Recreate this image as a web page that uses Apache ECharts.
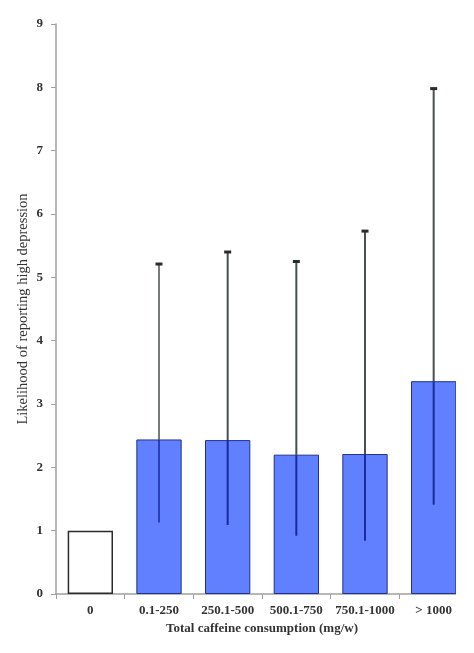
<!DOCTYPE html>
<html>
<head>
    <meta charset="utf-8">
    <title>ECharts</title>
    <script src="https://cdn.jsdelivr.net/npm/echarts@6/dist/echarts.min.js"></script>
    <style>
        html, body { margin: 0; padding: 0; background: #fff; }
    </style>
</head>
<body>
<div id="main" style="width: 474px; height: 653px;"></div>
<script type="text/javascript">
    // data
    var categories = ['0', '0.1-250', '250.1-500', '500.1-750', '750.1-1000', '> 1000'];
    var likelihood = [1, 2.44, 2.43, 2.2, 2.21, 3.36];
    var ciLow = [null, 1.13, 1.09, 0.92, 0.84, 1.41];
    var ciHigh = [null, 5.21, 5.40, 5.25, 5.73, 7.98];
    var yTicks = [0, 1, 2, 3, 4, 5, 6, 7, 8, 9];

    var font = 'Liberation Serif';
    var myChart = echarts.init(document.getElementById('main'));

    var barData = likelihood.map(function (v, i) {
        if (i === 0) {
            return {
                value: v,
                itemStyle: { color: '#ffffff', borderColor: '#2b2b2b', borderWidth: 1.5 }
            };
        }
        return v;
    });

    var errData = [];
    for (var i = 0; i < categories.length; i++) {
        if (ciLow[i] != null) {
            errData.push([i, ciLow[i], ciHigh[i], likelihood[i]]);
        }
    }

    var option = {
        backgroundColor: '#ffffff',
        animation: false,
        grid: { left: 56, right: 6, top: 24, bottom: 59 },
        xAxis: {
            type: 'category',
            data: categories,
            name: 'Total caffeine consumption (mg/w)',
            nameLocation: 'middle',
            nameGap: 27,
            nameTextStyle: { fontFamily: font, fontSize: 13, fontWeight: 'bold', color: '#333' },
            axisLine: { lineStyle: { color: '#a0a0a0', width: 1.5 } },
            axisTick: { show: true, length: 5, lineStyle: { color: '#a0a0a0' } },
            axisLabel: { fontFamily: font, fontSize: 13, fontWeight: 'bold', color: '#333', margin: 10, interval: 0 }
        },
        yAxis: {
            type: 'value',
            min: yTicks[0],
            max: yTicks[yTicks.length - 1],
            interval: 1,
            name: 'Likelihood of reporting high depression',
            nameLocation: 'middle',
            nameGap: 25,
            nameMoveOverlap: false,
            nameTextStyle: { fontFamily: font, fontSize: 14.5, color: '#333' },
            axisLine: { show: true, lineStyle: { color: '#a0a0a0', width: 1.5 } },
            axisTick: { show: true, length: 5, lineStyle: { color: '#a0a0a0' } },
            splitLine: { show: false },
            axisLabel: { fontFamily: font, fontSize: 13, fontWeight: 'bold', color: '#333', margin: 13 }
        },
        series: [
            {
                type: 'bar',
                data: barData,
                barWidth: '66%',
                itemStyle: { color: '#6080ff', borderColor: '#22308e', borderWidth: 1 }
            },
            {
                type: 'custom',
                z: 5,
                data: errData,
                renderItem: function (params, api) {
                    var idx = api.value(0);
                    var lo = api.coord([idx, api.value(1)]);
                    var hi = api.coord([idx, api.value(2)]);
                    var top = api.coord([idx, api.value(3)]);
                    var x = lo[0];
                    var w = params.dataIndex === 0 ? 1.5 : 2;
                    return {
                        type: 'group',
                        children: [
                            {
                                type: 'line',
                                shape: { x1: x, y1: top[1], x2: x, y2: hi[1] },
                                style: { stroke: '#4a4f4f', lineWidth: w }
                            },
                            {
                                type: 'line',
                                shape: { x1: x, y1: lo[1], x2: x, y2: top[1] },
                                style: { stroke: '#1a2a9a', lineWidth: w }
                            },
                            {
                                type: 'line',
                                shape: { x1: x - 3.5, y1: hi[1], x2: x + 3.5, y2: hi[1] },
                                style: { stroke: '#2b2b2b', lineWidth: 3 }
                            }
                        ]
                    };
                }
            }
        ],
        graphic: [
            {
                type: 'rect',
                z: 100,
                shape: { x: 456, y: 0, width: 18, height: 600 },
                style: { fill: '#ffffff' }
            }
        ]
    };

    myChart.setOption(option);
</script>
</body>
</html>
